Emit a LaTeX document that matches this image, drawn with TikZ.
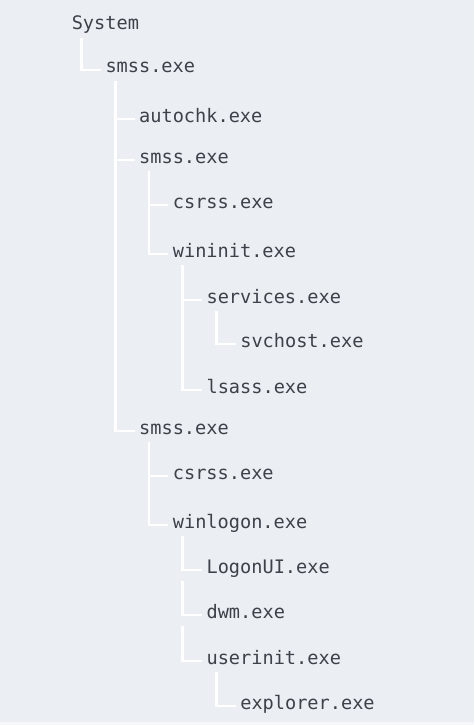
\documentclass[tikz,border=0pt]{standalone}
\usepackage{fontspec}
\usetikzlibrary{calc}
\newfontfamily\treemono{DejaVu Sans Mono}
\definecolor{bgc}{HTML}{EBEEF2}
\definecolor{bgedge}{HTML}{F5F7F9}
\definecolor{txt}{HTML}{3D414A}
\tikzset{
  lbl/.style={anchor=base west, inner sep=0pt, outer sep=0pt, text=txt,
    font=\treemono\fontsize{18.6}{22}\selectfont},
  conn/.style={draw=white, line width=2.9pt},
}
\newcommand{\treeedge}[2]{%
  \draw[conn] ([xshift=9.8pt,yshift=-8pt]#1.base west) |- ([xshift=-4.5pt,yshift=3pt]#2.base west);}
\newcommand{\treeedgeafter}[3]{%
  \draw[conn] ($(#1.base west |- #2.base west)+(9.8pt,-8pt)$) |- ([xshift=-4.5pt,yshift=3pt]#3.base west);}
\begin{document}
\begin{tikzpicture}[x=1pt,y=-1pt]
\useasboundingbox (0,0) rectangle (474,725);
\fill[bgc] (0,0) rectangle (474,725);
\fill[bgedge] (0,722) rectangle (474,725);

\node[lbl] (sys)   at (71.8,30)  {System};
\node[lbl] (smA)   at (105.5,73) {smss.exe};
\node[lbl] (auto)  at (139.2,122) {autochk.exe};
\node[lbl] (smB)   at (139.2,163) {smss.exe};
\node[lbl] (csA)   at (172.9,208) {csrss.exe};
\node[lbl] (wini)  at (172.9,257) {wininit.exe};
\node[lbl] (serv)  at (206.6,303) {services.exe};
\node[lbl] (svch)  at (240.3,347) {svchost.exe};
\node[lbl] (lsas)  at (206.6,393) {lsass.exe};
\node[lbl] (smC)   at (139.2,434) {smss.exe};
\node[lbl] (csB)   at (172.9,479) {csrss.exe};
\node[lbl] (winl)  at (172.9,528) {winlogon.exe};
\node[lbl] (logon) at (206.6,573) {LogonUI.exe};
\node[lbl] (dwm)   at (206.6,618) {dwm.exe};
\node[lbl] (user)  at (206.6,664) {userinit.exe};
\node[lbl] (expl)  at (240.3,709) {explorer.exe};

\treeedge{sys}{smA}
\treeedge{smA}{auto}
\treeedge{smA}{smB}
\treeedge{smA}{smC}
\treeedge{smB}{csA}
\treeedge{smB}{wini}
\treeedge{wini}{serv}
\treeedge{wini}{lsas}
\treeedge{serv}{svch}
\treeedge{smC}{csB}
\treeedge{smC}{winl}
\treeedge{winl}{logon}
\treeedgeafter{winl}{logon}{dwm}
\treeedgeafter{winl}{dwm}{user}
\treeedge{user}{expl}
\end{tikzpicture}
\end{document}
